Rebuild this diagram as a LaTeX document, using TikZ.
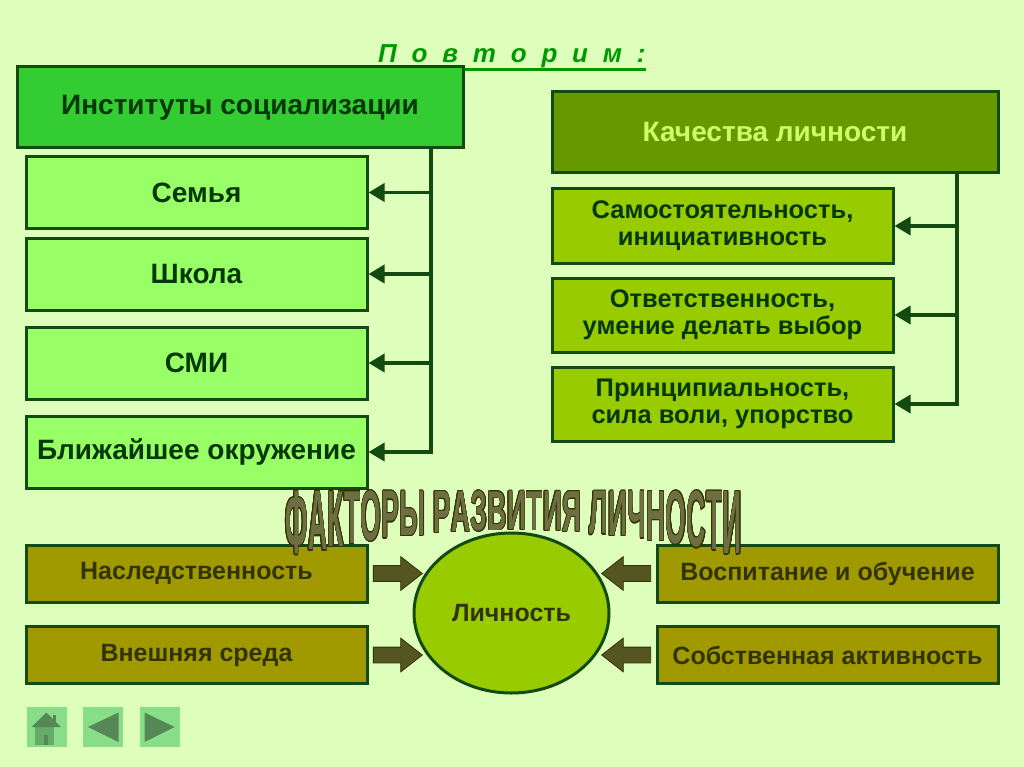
\documentclass[tikz,border=0pt]{standalone}
\usepackage{fontspec}
\setmainfont{Liberation Sans}
\newfontfamily\titlefont[WordSpace=2.05]{Liberation Sans}
\usepackage{graphicx}
\usepackage{contour}
\contourlength{0.5pt}
\usetikzlibrary{arrows.meta,shapes.geometric,shapes.arrows}
\definecolor{bg}{HTML}{DDFFBB}
\definecolor{dkgreen}{HTML}{124A12}
\definecolor{txtgreen}{HTML}{063806}
\definecolor{instgreen}{HTML}{33CC33}
\definecolor{lightgreen}{HTML}{99FF66}
\definecolor{olivegreen}{HTML}{669900}
\definecolor{qualtext}{HTML}{CCFF66}
\definecolor{limegreen}{HTML}{99CC00}
\definecolor{olive}{HTML}{A09A00}
\definecolor{dkolive}{HTML}{333300}
\definecolor{arrowolive}{HTML}{555522}
\definecolor{wordolive}{HTML}{6E6E45}
\definecolor{titlegreen}{HTML}{009900}
\definecolor{navgreen}{HTML}{88DD88}
\definecolor{navdark}{HTML}{558855}
\definecolor{navbody}{HTML}{66AA66}
\newcommand\wsp{\hspace{8pt}}

\begin{document}
\begin{tikzpicture}[x=1pt, y=-1pt,
    box/.style={draw=dkgreen, line width=3pt, minimum width=341pt, inner sep=0pt, align=center},
    header/.style={box, minimum width=446pt, minimum height=81pt, font=\fontsize{28}{32}\selectfont\bfseries},
    instbox/.style={box, fill=lightgreen, minimum height=72pt, text=txtgreen, font=\fontsize{28}{32}\selectfont\bfseries},
    qualbox/.style={box, fill=limegreen, minimum height=74pt, text=txtgreen, font=\fontsize{25.5}{27}\selectfont\bfseries},
    factbox/.style={box, fill=olive, minimum height=57pt, text=dkolive, font=\fontsize{25}{28}\selectfont\bfseries},
    link/.style={draw=dkgreen, line width=3.5pt, -{Triangle[length=16pt,width=18pt]}},
    blockarrow/.style={single arrow, anchor=tip, draw=dkolive, fill=arrowolive, line width=0.8pt, minimum width=33pt,
      minimum height=49pt, single arrow head extend=9pt, single arrow tip angle=76, inner xsep=0pt, inner ysep=7.5pt}]
  \useasboundingbox (0,0) rectangle (1024,767);
  \fill[bg] (0,0) rectangle (1024,767);

  % Title
  \node[inner sep=0pt, anchor=base west, text=titlegreen, font=\titlefont\fontsize{26}{30}\selectfont\bfseries\itshape]
    (ttl) at (378,63) {П о в т о р и м :};
  \draw[titlegreen, line width=3pt] ([yshift=-6.5pt]ttl.base west) -- ([yshift=-6.5pt]ttl.base east);

  % Institutes of socialization
  \node[header, fill=instgreen, text=txtgreen] (ins) at (240,107.5) {Институты социализации};
  \node[instbox] (fam) at (196.5,192.5) {Семья};
  \node[instbox] (school) at (196.5,274) {Школа};
  \node[instbox] (media) at (196.5,363) {СМИ};
  \node[instbox] (circle) at (196.5,452) {Ближайшее окружение};
  \coordinate (tl) at (431,0);
  \foreach \n in {fam,school,media,circle}
    \draw[link] (ins.south -| tl) |- (\n.east);

  % Qualities of personality
  \node[header, fill=olivegreen, text=qualtext] (qual) at (775,132.5) {Качества личности};
  \node[qualbox] (indep) at (722.5,226) {Самостоятельность,\\инициативность};
  \node[qualbox] (resp) at (722.5,315) {Ответственность,\\умение делать выбор};
  \node[qualbox] (will) at (722.5,404) {Принципиальность,\\сила воли, упорство};
  \coordinate (tr) at (957,0);
  \foreach \n in {indep,resp,will}
    \draw[link] (qual.south -| tr) |- (\n.east);

  % Factors
  \node[factbox] (hered) at (196.5,573.5) {Наследственность};
  \node[factbox] (milieu) at (196.5,655) {Внешняя среда};
  \node[factbox] (educ) at (827.5,573.5) {Воспитание и обучение};
  \node[factbox] (activ) at (827.5,655) {Собственная активность};
  \node[ellipse, draw=dkgreen, line width=3pt, fill=limegreen, minimum width=195pt, minimum height=160pt,
    text=dkolive, font=\fontsize{25}{28}\selectfont\bfseries] (pers) at (511.5,613) {Личность};
  \node[blockarrow] (a1) at (423,573.5) {};
  \node[blockarrow] (a2) at (423,655) {};
  \node[blockarrow, shape border rotate=180] (a3) at (601,573.5) {};
  \node[blockarrow, shape border rotate=180] (a4) at (601,655) {};

  % Arched heading, letter by letter
  \coordinate (w0) at (285,491);
  \foreach \ch [count=\i, remember=\i as \j (initially 0)] in
      {Ф,А,К,Т,О,Р,Ы,\wsp,Р,А,З,В,И,Т,И,Я,\wsp,Л,И,Ч,Н,О,С,Т,И}{
    \pgfmathsetmacro\sy{1.86+1.14*((\i-13)/12)^2}
    \node[anchor=north west, inner sep=0pt, text=wordolive, font=\fontsize{30}{30}\selectfont\bfseries]
      (w\i) at (w\j.north east) {\scalebox{0.88}[\sy]{\contour{dkolive}{\ch}\vphantom{Ф}}};
  }

  % Navigation buttons
  \fill[navgreen] (27,707) rectangle (67,747);
  \fill[navgreen] (83,707) rectangle (123,747);
  \fill[navgreen] (140,707) rectangle (180,747);
  \fill[navbody] (35,727) rectangle (54,745);
  \fill[navdark] (53,715) rectangle (56,722);
  \fill[navdark] (31.5,727) -- (46.5,712.5) -- (61,727) -- cycle;
  \fill[navdark] (44,735) rectangle (48,745);
  \fill[navdark] (88,727) -- (118.5,712.5) -- (118.5,742) -- cycle;
  \fill[navdark] (144.5,712.5) -- (144.5,742) -- (174.5,727) -- cycle;
\end{tikzpicture}
\end{document}
